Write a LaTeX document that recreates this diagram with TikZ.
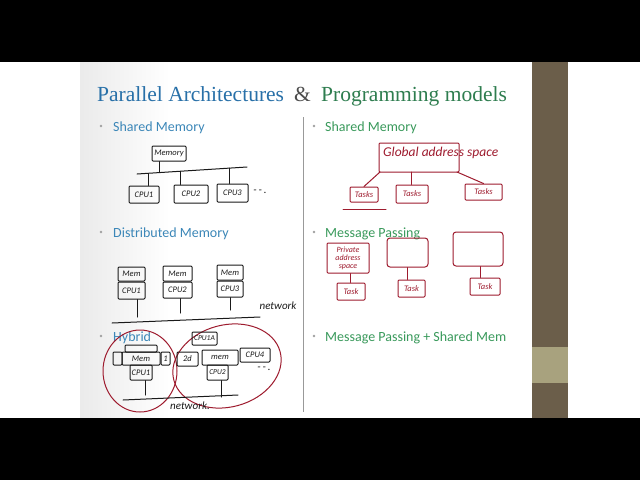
\documentclass[tikz,border=0pt]{standalone}
\usepackage{fontspec}
\setmainfont{Carlito}
\newfontfamily\titlefont{Liberation Serif}
\newfontfamily\handfont{Carlito}
\usetikzlibrary{shapes.geometric}
\definecolor{titleblue}{HTML}{2870A8}
\definecolor{bulblue}{HTML}{3C87B8}
\definecolor{titlegreen}{HTML}{2E7D4F}
\definecolor{bulgreen}{HTML}{3A9A5C}
\definecolor{ink}{HTML}{1A1A1A}
\definecolor{redink}{HTML}{9E1B2E}
\definecolor{barbrown}{HTML}{6B5E4A}
\definecolor{bartan}{HTML}{A8A27E}
\definecolor{bulletgray}{HTML}{A0A0A0}
\tikzset{
  hbox/.style={draw=ink, line width=1pt, inner sep=0pt, rounded corners=1pt,
    font=\handfont\itshape\fontsize{8.5}{8.5}\selectfont, text=ink},
  rbox/.style={hbox, draw=redink, text=redink},
  hline/.style={draw=ink, line width=1pt, line cap=round},
  rline/.style={draw=redink, line width=1pt, line cap=round},
  htext/.style={inner sep=0pt, font=\handfont\itshape\fontsize{11}{11}\selectfont, text=ink},
  rtext/.style={htext, text=redink},
  titletext/.style={anchor=base west, inner sep=0pt, font=\titlefont\fontsize{21.5}{24}\selectfont},
  bullettext/.style={anchor=base west, inner sep=0pt, font=\fontsize{14}{16}\selectfont},
  bdot/.style={circle, fill=bulletgray, inner sep=0pt, minimum size=2.6pt},
  hoop/.style={ellipse, draw=redink, line width=1pt, inner sep=0pt}
}
\begin{document}
\begin{tikzpicture}[x=1pt,y=-1pt]
\useasboundingbox (0,0) rectangle (640,480);
\fill[white] (0,0) rectangle (640,480);
\shade[left color=black!8, right color=white] (80,62) rectangle (170,418);
\fill[black] (0,0) rectangle (640,62);
\fill[black] (0,418) rectangle (640,480);
\fill[barbrown] (532,62) rectangle (568,418);
\fill[bartan] (532,347) rectangle (568,383);
\draw[black!40, line width=0.6pt] (303,117) -- (303,412);

% titles
\node[titletext, text=titleblue] (ttl1) at (97,101) {Parallel Architectures};
\node[titletext, text=black!70] (amp) at (294,101) {\&};
\node[titletext, text=titlegreen] (ttl2) at (321,101) {Programming models};

% bullets
\node[bdot] (bd1) at (101,126) {};
\node[bullettext, text=bulblue] (bl1) at (113,131) {Shared Memory};
\node[bdot] (bd2) at (101,232) {};
\node[bullettext, text=bulblue] (bl2) at (113,237) {Distributed Memory};
\node[bdot] (bd3) at (101,336) {};
\node[bullettext, text=bulblue] (bl3) at (113,341) {Hybrid};
\node[bdot] (bd4) at (314,126) {};
\node[bullettext, text=bulgreen] (br1) at (325,131) {Shared Memory};
\node[bdot] (bd5) at (314,232) {};
\node[bullettext, text=bulgreen] (br2) at (325,237) {Message Passing};
\node[bdot] (bd6) at (314,336) {};
\node[bullettext, text=bulgreen] (br3) at (325,341) {Message Passing + Shared Mem};

% shared memory (architecture)
\node[hbox, minimum width=34pt, minimum height=15pt] (smem) at (169,153.5) {Memory};
\coordinate (busL) at (137,174);
\coordinate (busR) at (247,167);
\draw[hline] (busL) -- (busR);
\coordinate (m0) at (159,172.1);
\draw[hline] (smem.south -| m0) -- (m0);
\node[hbox, minimum width=30pt, minimum height=17pt] (cpu1) at (144,194.5) {CPU1};
\node[hbox, minimum width=34pt, minimum height=18pt] (cpu2) at (191,194) {CPU2};
\node[hbox, minimum width=31pt, minimum height=18pt] (cpu3) at (232.5,193) {CPU3};
\coordinate (k1) at (148,173.3);
\coordinate (k2) at (180,171.3);
\coordinate (k3) at (229,168.1);
\draw[hline] (k1) -- (k1 |- cpu1.north);
\draw[hline] (k2) -- (k2 |- cpu2.north);
\draw[hline] (k3) -- (k3 |- cpu3.north);
\node[htext] (more1) at (260,192) {-\,-\,.};

% distributed memory
\node[hbox, minimum width=27pt, minimum height=14pt] (dm1) at (131.5,274) {Mem};
\node[hbox, minimum width=27pt, minimum height=17pt, anchor=north] (dc1) at (dm1.south) {CPU1};
\node[hbox, minimum width=29pt, minimum height=15pt] (dm2) at (177.5,273.5) {Mem};
\node[hbox, minimum width=29pt, minimum height=16pt, anchor=north] (dc2) at (dm2.south) {CPU2};
\node[hbox, minimum width=26pt, minimum height=15pt] (dm3) at (230,272.5) {Mem};
\node[hbox, minimum width=26pt, minimum height=16pt, anchor=north] (dc3) at (dm3.south) {CPU3};
\coordinate (n1) at (137,317);
\coordinate (n2) at (180,313);
\coordinate (n3) at (230,310);
\draw[hline] (dc1.south -| n1) -- (n1);
\draw[hline] (dc2.south -| n2) -- (n2);
\draw[hline] (dc3.south -| n3) -- (n3);
\coordinate (netL) at (112,323);
\coordinate (netR) at (260,317);
\draw[hline] (netL) -- (netR);
\node[htext] (net1) at (278,306) {network};

% hybrid
\node[hoop, minimum width=74pt, minimum height=82pt] (hoopL) at (140,371) {};
\node[hoop, minimum width=110pt, minimum height=82pt, rotate=15] (hoopR) at (227,366) {};
\node[hbox, minimum width=32pt, minimum height=7pt] (htop) at (141,348.5) {};
\node[hbox, minimum width=38pt, minimum height=13pt] (hmem1) at (141,358.5) {Mem};
\node[hbox, minimum width=9pt, minimum height=13pt] (hpl) at (117.5,358.5) {};
\node[hbox, minimum width=9pt, minimum height=13pt] (hone) at (165.5,358.5) {1};
\node[hbox, minimum width=22pt, minimum height=15pt] (hcpu1) at (141,372.5) {CPU1};
\coordinate (h1) at (145,395);
\draw[hline] (hcpu1.south -| h1) -- (h1);
\node[hbox, minimum width=25pt, minimum height=13pt, font=\handfont\itshape\fontsize{7.5}{7.5}\selectfont] (hcpu1a) at (204.5,338.5) {CPU1A};
\node[hbox, minimum width=21pt, minimum height=14pt] (h2d) at (187.5,359) {2d};
\node[hbox, minimum width=36pt, minimum height=15pt] (hmem2) at (220,357.5) {mem};
\node[hbox, minimum width=30pt, minimum height=14pt] (hcpu4) at (255,355) {CPU4};
\node[hbox, minimum width=21pt, minimum height=15pt, font=\handfont\itshape\fontsize{7.5}{7.5}\selectfont] (hcpu2) at (217.5,372.5) {CPU2};
\coordinate (h2) at (221,397);
\draw[hline] (hcpu2.south -| h2) -- (h2);
\coordinate (hnL) at (123,400);
\coordinate (hnR) at (238,395);
\draw[hline] (hnL) -- (hnR);
\node[htext] (net2) at (190,406) {network.};
\node[htext] (more2) at (264,369) {-\,-\,.};

% shared memory (programming model)
\node[rbox, minimum width=80pt, minimum height=29pt] (gas) at (419,157.5) {};
\node[rtext, anchor=base west, font=\handfont\itshape\fontsize{13.5}{13.5}\selectfont] (gtxt) at (383,156) {Global address space};
\node[rbox, minimum width=28pt, minimum height=15pt] (tk1) at (364,194.5) {Tasks};
\node[rbox, minimum width=32pt, minimum height=18pt] (tk2) at (412,194) {Tasks};
\node[rbox, minimum width=37pt, minimum height=16pt] (tk3) at (483.5,192) {Tasks};
\coordinate (g1) at (380,172);
\coordinate (g2) at (411,172);
\coordinate (g3) at (457,172);
\draw[rline] (g1) -- (tk1.north);
\draw[rline] (g2) -- (g2 |- tk2.north);
\draw[rline] (g3) -- (tk3.north);
\coordinate (ul1) at (343,209);
\coordinate (ul2) at (386,209);
\draw[rline] (ul1) -- (ul2);

% message passing
\node[rbox, minimum width=42pt, minimum height=30pt, align=center,
  font=\handfont\itshape\fontsize{8}{8}\selectfont] (pa1) at (348,258) {Private\\address\\space};
\node[rbox, minimum width=41pt, minimum height=29pt, rounded corners=3pt] (pa2) at (407.5,252.5) {};
\node[rbox, minimum width=50pt, minimum height=34pt, rounded corners=3pt] (pa3) at (478,249) {};
\node[rbox, minimum width=28pt, minimum height=17pt] (mt1) at (351,291.5) {Task};
\node[rbox, minimum width=27pt, minimum height=17pt] (mt2) at (411.5,288.5) {Task};
\node[rbox, minimum width=30pt, minimum height=17pt] (mt3) at (485,286.5) {Task};
\draw[rline] (pa1.south -| 350,0) -- (mt1.north -| 350,0);
\draw[rline] (pa2.south -| 407,0) -- (mt2.north -| 407,0);
\draw[rline] (pa3.south -| 480,0) -- (mt3.north -| 480,0);
\end{tikzpicture}
\end{document}
